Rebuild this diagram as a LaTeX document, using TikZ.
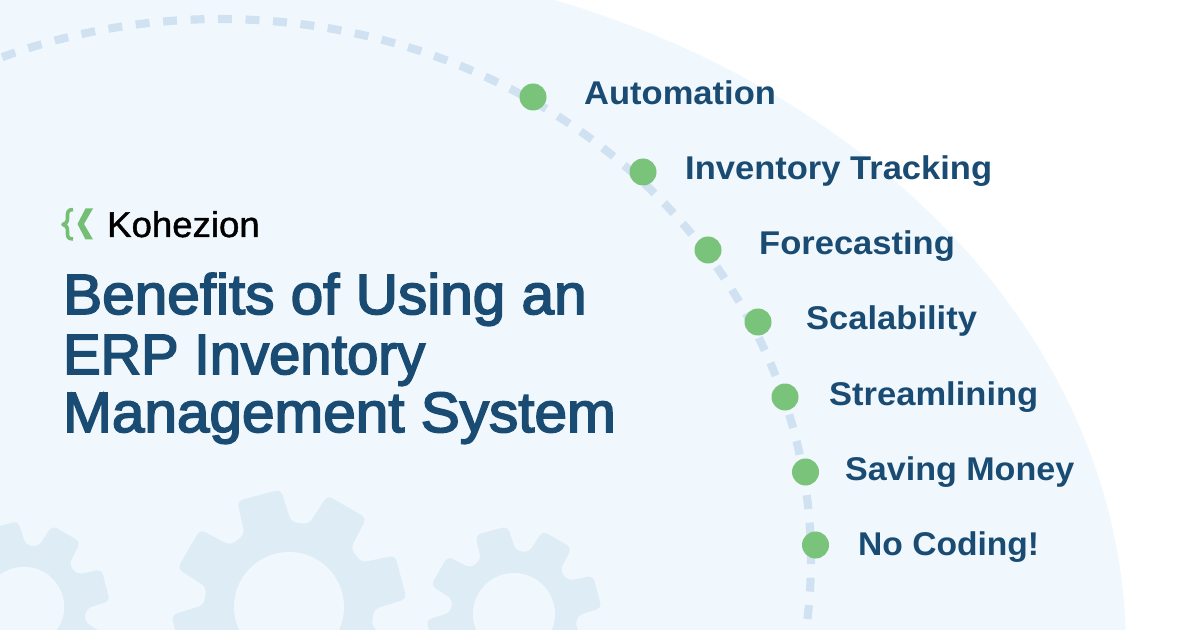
\documentclass[tikz,border=0pt]{standalone}
\usepackage{fontspec}
\setmainfont{Liberation Sans}
\newfontfamily\labelfont[FakeStretch=1.05]{Liberation Sans Bold}
\newfontfamily\headfont[FakeBold=3,FakeStretch=1.03]{Liberation Sans}
\newfontfamily\logofont[FakeBold=1.2,FakeStretch=1.02]{Liberation Sans}
\definecolor{bgblue}{HTML}{F1F8FD}
\definecolor{gearblue}{HTML}{DEECF5}
\definecolor{dashblue}{HTML}{D0E2F1}
\definecolor{dotgreen}{HTML}{7AC37A}
\definecolor{inkblue}{HTML}{1A4B72}
\definecolor{logogreen}{HTML}{75BE75}
\tikzset{
  dotnode/.style={circle,fill=dotgreen,minimum size=27bp,inner sep=0pt},
  benefit/.style={anchor=base west,inner sep=0pt,text=inkblue,font=\fontsize{33}{38}\labelfont},
  headline/.style={anchor=base west,inner sep=0pt,text=inkblue,font=\fontsize{57}{60}\headfont},
  dashline/.style={dashblue,line width=8.2bp,dash pattern=on 14bp off 13.55bp},
  gearshape/.style={gearblue,rounded corners=5bp}
}
\newcommand{\gearat}[3]{% x y scale
  \begin{scope}[shift={(#1,#2)},scale=#3]
    \fill[gearshape]
      \foreach \a [count=\i] in {-15,30,...,300}{
        \ifnum\i=1 ({\a-16.5}:85) \else -- ({\a-16.5}:85) \fi
        -- ({\a-11}:118) -- ({\a+11}:118) -- ({\a+16.5}:85)
      } -- cycle;
    \fill[bgblue] (0,0) circle (55);
  \end{scope}}
\begin{document}
\begin{tikzpicture}[x=1bp,y=-1bp]
\useasboundingbox (0,0) rectangle (1200,630);
\fill[white] (0,0) rectangle (1200,630);
\begin{scope}
  \clip (0,0) rectangle (1200,630);
  \fill[bgblue] (250,650) circle [x radius=876,y radius=693];
  \gearat{24}{607}{0.73}
  \gearat{289}{607}{1}
  \gearat{514}{614}{0.745}
  \draw[dashline] plot[domain=90.2:-9,samples=120,variable=\t] ({220+591*cos(\t)},{560-541*sin(\t)});
  \draw[dashline] plot[domain=91.5:120,samples=40,variable=\t] ({220+591*cos(\t)},{560-541*sin(\t)});
\end{scope}
\foreach \nm/\x/\y in {a/533/97,b/643/172,c/708/250,d/758/322,e/785/397,f/805.5/472,g/815.5/545}
  \node[dotnode] (dot\nm) at (\x,\y) {};
\node[benefit] (la) at (584,105) {Automation};
\node[benefit] (lb) at (685,180) {Inventory Tracking};
\node[benefit] (lc) at (759,255) {Forecasting};
\node[benefit] (ld) at (806,330) {Scalability};
\node[benefit] (le) at (829,405) {Streamlining};
\node[benefit] (lf) at (845,480) {\scalebox{.987}[1]{Saving Money}};
\node[benefit] (lg) at (858,555) {\scalebox{.973}[1]{No Coding!}};
\node[headline] (h1) at (63,314) {Benefits of Using an};
\node[headline] (h2) at (63,374) {\scalebox{.96}[1]{ERP Inventory}};
\node[headline] (h3) at (63,432) {Management System};
\node[anchor=base west,inner sep=0pt,font=\fontsize{36}{40}\logofont,text=black] (logo) at (107,237) {Kohezion};
\fill[logogreen] (85.5,208.5) -- (93,208.5) -- (84,224) -- (93,239.5) -- (85.5,239.5) -- (77.5,224) -- cycle;
\draw[logogreen,line width=3.6bp,line join=round] (73,209.5) .. controls (67,209.5) and (67.5,213) .. (67.5,218) .. controls (67.5,222) and (66,224) .. (63,224.5) .. controls (66,225) and (67.5,227) .. (67.5,231) .. controls (67.5,236) and (67,239) .. (73,239);
\end{tikzpicture}
\end{document}
